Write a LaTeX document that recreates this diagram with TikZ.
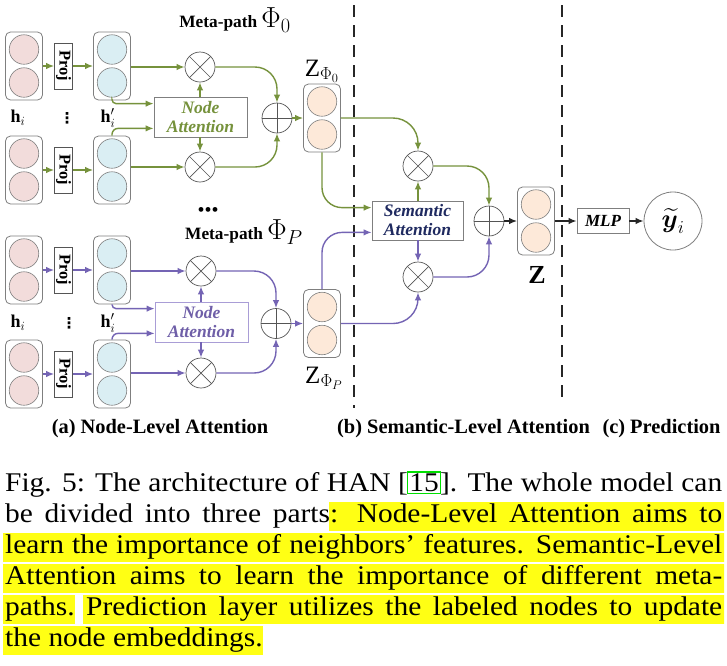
\RequirePackage{fix-cm}
\documentclass[tikz,border=0pt]{standalone}
\usepackage{amsmath}
\usepackage{fontspec}
\setmainfont{Liberation Serif}
\newfontfamily\capfont[FakeStretch=1.09]{Liberation Serif}
\newfontfamily\djv{DejaVu Sans}
\usetikzlibrary{arrows.meta}
\definecolor{gr}{HTML}{76923C}
\definecolor{pu}{HTML}{7464B4}
\definecolor{putext}{HTML}{6F5FA8}
\definecolor{puborder}{HTML}{A99DD6}
\definecolor{navy}{HTML}{1F2A60}
\definecolor{pinkc}{HTML}{F2DCDB}
\definecolor{bluec}{HTML}{DAEEF3}
\definecolor{peach}{HTML}{FDE9D9}
\definecolor{edgegray}{HTML}{7F7F7F}
\definecolor{opgray}{HTML}{555555}
\definecolor{hly}{HTML}{FFFF14}
\definecolor{lg}{HTML}{00E000}
\newsavebox\hlbox
\newcommand{\hlrule}[1]{\rlap{\kern#1\color{hly}\vrule width 800pt height 20pt depth 9pt}}
\newcommand{\hlword}[1]{\sbox\hlbox{#1}\rlap{\kern-2.5pt\color{hly}\vrule width \dimexpr\wd\hlbox+3pt\relax height 20pt depth 9pt}\usebox\hlbox}
\newcommand{\mystack}[4]{%
  \node[stackbox] (#1) at (#2,#3) {};
  \node[cell,fill=#4] (#1a) at (#2,#3-16.5) {};
  \node[cell,fill=#4] (#1b) at (#2,#3+16.5) {};
}
\begin{document}
\begin{tikzpicture}[x=1pt,y=-1pt,
  stackbox/.style={draw=edgegray, rounded corners=5pt, minimum width=37pt, minimum height=68pt, inner sep=0pt, line width=0.8pt},
  cell/.style={circle, draw=edgegray, minimum size=29.5pt, inner sep=0pt, line width=0.6pt},
  projbox/.style={draw=opgray, rotate=-90, font=\bfseries\fontsize{16.5}{16.5}\selectfont, minimum width=46pt, minimum height=18pt, inner sep=0pt, line width=0.7pt},
  otimesn/.style={circle, draw=opgray, fill=white, minimum size=30pt, inner sep=0pt, line width=0.7pt,
    path picture={\draw[opgray, line width=0.7pt] (path picture bounding box.north west) -- (path picture bounding box.south east) (path picture bounding box.north east) -- (path picture bounding box.south west);}},
  oplusn/.style={circle, draw=opgray, fill=white, minimum size=30pt, inner sep=0pt, line width=0.7pt,
    path picture={\draw[opgray, line width=0.7pt] (path picture bounding box.north) -- (path picture bounding box.south) (path picture bounding box.west) -- (path picture bounding box.east);}},
  attbox/.style={draw=edgegray, line width=0.8pt, minimum width=93pt, minimum height=40pt, inner sep=0pt, align=center, font=\bfseries\itshape\fontsize{17.5}{19}\selectfont},
  ga/.style={draw=gr, line width=1.4pt, -{Latex[length=8pt,width=6.5pt]}},
  pa/.style={draw=pu, line width=1.4pt, -{Latex[length=8pt,width=6.5pt]}},
  ba/.style={draw=black!85, line width=1.4pt, -{Latex[length=8pt,width=6.5pt]}},
  dashline/.style={draw=black!85, line width=2.2pt, dash pattern=on 12pt off 8pt},
  lbl/.style={inner sep=0pt},
  sub/.style={inner sep=0pt, font=\bfseries\fontsize{20.4}{22}\selectfont},
  mp/.style={inner sep=0pt, font=\bfseries\fontsize{17.3}{18}\selectfont},
  capline/.style={anchor=base west, inner sep=0pt, font=\capfont\fontsize{27}{31}\selectfont}
]
\fill[white] (0,0) rectangle (727,665);
\useasboundingbox (0,0) rectangle (727,665);

% ---------------- dashed separators
\draw[dashline] (354,5) -- (354,408);
\draw[dashline] (562,5) -- (562,404);

% ---------------- stacks
\mystack{P1}{24}{66}{pinkc}
\mystack{B1}{112}{66}{bluec}
\mystack{P2}{24}{170}{pinkc}
\mystack{B2}{112}{170}{bluec}
\mystack{P3}{24}{270}{pinkc}
\mystack{B3}{112}{270}{bluec}
\mystack{P4}{24}{374}{pinkc}
\mystack{B4}{112}{374}{bluec}
\mystack{Z0}{322}{118}{peach}
\mystack{ZP}{322}{323.5}{peach}
\mystack{Z}{536}{221}{peach}

% ---------------- proj boxes
\node[projbox] (J1) at (63.5,66) {Proj};
\node[projbox] (J2) at (63.5,170) {Proj};
\node[projbox] (J3) at (63.5,270) {Proj};
\node[projbox] (J4) at (63.5,374) {Proj};

% ---------------- node attention
\node[otimesn] (O1) at (200,67) {};
\node[otimesn] (O2) at (200,167) {};
\node[attbox, text=gr] (NA1) at (200.5,117) {Node\\Attention};
\node[oplusn] (S1) at (277,118) {};
\node[otimesn] (O3) at (201,271) {};
\node[otimesn] (O4) at (201,373) {};
\node[attbox, text=putext, draw=puborder] (NA2) at (201.5,322) {Node\\Attention};
\node[oplusn] (S2) at (276,323.5) {};

% ---------------- semantic attention
\node[attbox, text=navy, minimum width=91pt, minimum height=39pt] (SA) at (417.5,220.5) {Semantic\\Attention};
\node[otimesn] (SO1) at (418,166) {};
\node[otimesn] (SO2) at (418,277) {};
\node[oplusn] (SP) at (489,221) {};

% ---------------- prediction
\node[draw=edgegray, line width=0.8pt, minimum width=52pt, minimum height=25pt, inner sep=0pt, font=\bfseries\itshape\fontsize{17}{17}\selectfont] (MLP) at (603,221) {MLP};
\node[circle, draw=edgegray, line width=0.8pt, minimum size=58pt, inner sep=0pt, font=\fontsize{26}{26}\selectfont] (Y) at (673,221) {$\boldsymbol{\widetilde{y}}_i$};

% ---------------- labels
\node[mp] (mp0) at (235,20) {Meta-path \fontsize{29}{29}\selectfont$\Phi_0$};
\node[mp] (mpP) at (244,232) {Meta-path \fontsize{29}{29}\selectfont$\Phi_P$};
\node[lbl, font=\fontsize{20}{20}\selectfont] (dots) at (208,212) {•••};
\node[lbl, font=\fontsize{18}{18}\selectfont] (h1) at (18,118) {$\mathbf{h}_i$};
\node[lbl, font=\djv\bfseries\fontsize{15}{15}\selectfont] (v1) at (67,118) {⋮};
\node[lbl, font=\fontsize{18}{18}\selectfont] (hp1) at (108,118) {$\mathbf{h}'_i$};
\node[lbl, font=\fontsize{18}{18}\selectfont] (h2) at (18,323) {$\mathbf{h}_i$};
\node[lbl, font=\djv\bfseries\fontsize{15}{15}\selectfont] (v2) at (69,323) {⋮};
\node[lbl, font=\fontsize{18}{18}\selectfont] (hp2) at (108,323) {$\mathbf{h}'_i$};
\node[lbl, font=\fontsize{25}{25}\selectfont] (lz0) at (322,71) {$\mathrm{Z}_{\Phi_0}$};
\node[lbl, font=\fontsize{25}{25}\selectfont] (lzp) at (324,378) {$\mathrm{Z}_{\Phi_P}$};
\node[lbl, font=\fontsize{26}{26}\selectfont] (lz) at (537,275) {$\mathbf{Z}$};
\node[sub] (sa) at (160,429) {(a) Node-Level Attention};
\node[sub] (sb) at (463.5,429) {(b) Semantic-Level Attention};
\node[sub] (sc) at (661.5,429) {(c) Prediction};

% ---------------- connectors: meta-path 0 (green)
\draw[ga] (P1.east) -- (J1);
\draw[ga] (J1) -- (B1.west);
\draw[ga] (P2.east) -- (J2);
\draw[ga] (J2) -- (B2.west);
\draw[ga] (B1.east |- O1) -- (O1);
\draw[ga] (B2.east |- O2) -- (O2);
\draw[ga, rounded corners=4pt] (B1.south) |- ([yshift=-7pt]NA1.north west);
\draw[ga, rounded corners=6pt] (B2.north) |- ([yshift=9pt]NA1.south west);
\draw[ga] (O1 |- NA1.north) -- (O1.south);
\draw[ga] (O2 |- NA1.south) -- (O2.north);
\draw[ga, rounded corners=22pt] (O1.east) -| (S1.north);
\draw[ga, rounded corners=22pt] (O2.east) -| (S1.south);
\draw[ga] (S1.east) -- (Z0.west |- S1);

% ---------------- connectors: meta-path P (purple)
\draw[pa] (P3.east) -- (J3);
\draw[pa] (J3) -- (B3.west);
\draw[pa] (P4.east) -- (J4);
\draw[pa] (J4) -- (B4.west);
\draw[pa] (B3.east |- O3) -- (O3);
\draw[pa] (B4.east |- O4) -- (O4);
\draw[pa, rounded corners=4pt] (B3.south) |- ([yshift=-7pt]NA2.north west);
\draw[pa, rounded corners=6pt] (B4.north) |- ([yshift=9pt]NA2.south west);
\draw[pa] (O3 |- NA2.north) -- (O3.south);
\draw[pa] (O4 |- NA2.south) -- (O4.north);
\draw[pa, rounded corners=22pt] (O3.east) -| (S2.north);
\draw[pa, rounded corners=22pt] (O4.east) -| (S2.south);
\draw[pa] (S2.east) -- (ZP.west |- S2);

% ---------------- connectors: semantic level
\draw[ga, rounded corners=25pt] (Z0.east) -| (SO1.north);
\draw[ga, rounded corners=20pt] (Z0.south) |- ([yshift=-7pt]SA.north west);
\draw[ga] (SO1 |- SA.north) -- (SO1.south);
\draw[ga, rounded corners=22pt] (SO1.east) -| (SP.north);
\draw[pa, rounded corners=20pt] (ZP.north) |- ([yshift=8pt]SA.south west);
\draw[pa] (SO2 |- SA.south) -- (SO2.north);
\draw[pa, rounded corners=25pt] (ZP.east) -| (SO2.south);
\draw[pa, rounded corners=22pt] (SO2.east) -| (SP.south);
\draw[ba] (SP.east) -- (Z.west |- SP);
\draw[ba] (Z.east |- MLP) -- (MLP.west);
\draw[ba] (MLP) -- (Y);

% ---------------- caption
\begin{scope}
\clip (0,455) rectangle (724,665);
\node[capline] (c1) at (5,491.5) {\hbox to 717pt{Fig. 5: The architecture of HAN [\kern-1pt{\fboxsep=1pt\fboxrule=1.3pt\fcolorbox{lg}{white}{15}}\kern-1pt]. The whole model can}};
\node[capline] (c2) at (5,522.4) {\hbox to 717pt{be divided into three parts\hlrule{-1pt}: Node-Level Attention aims to}};
\node[capline] (c3) at (5,553.3) {\hbox to 717pt{\hlrule{-2.5pt}learn the importance of neighbors’ features. Semantic-Level}};
\node[capline] (c4) at (5,584.2) {\hbox to 717pt{\hlrule{-2.5pt}Attention aims to learn the importance of different meta-}};
\node[capline] (c5) at (5,615.1) {\hbox to 717pt{\hlword{paths.} \hlrule{-3pt}Prediction layer utilizes the labeled nodes to update}};
\node[capline] (c6) at (5,646) {\hlword{the node embeddings.}};
\end{scope}
\end{tikzpicture}
\end{document}
